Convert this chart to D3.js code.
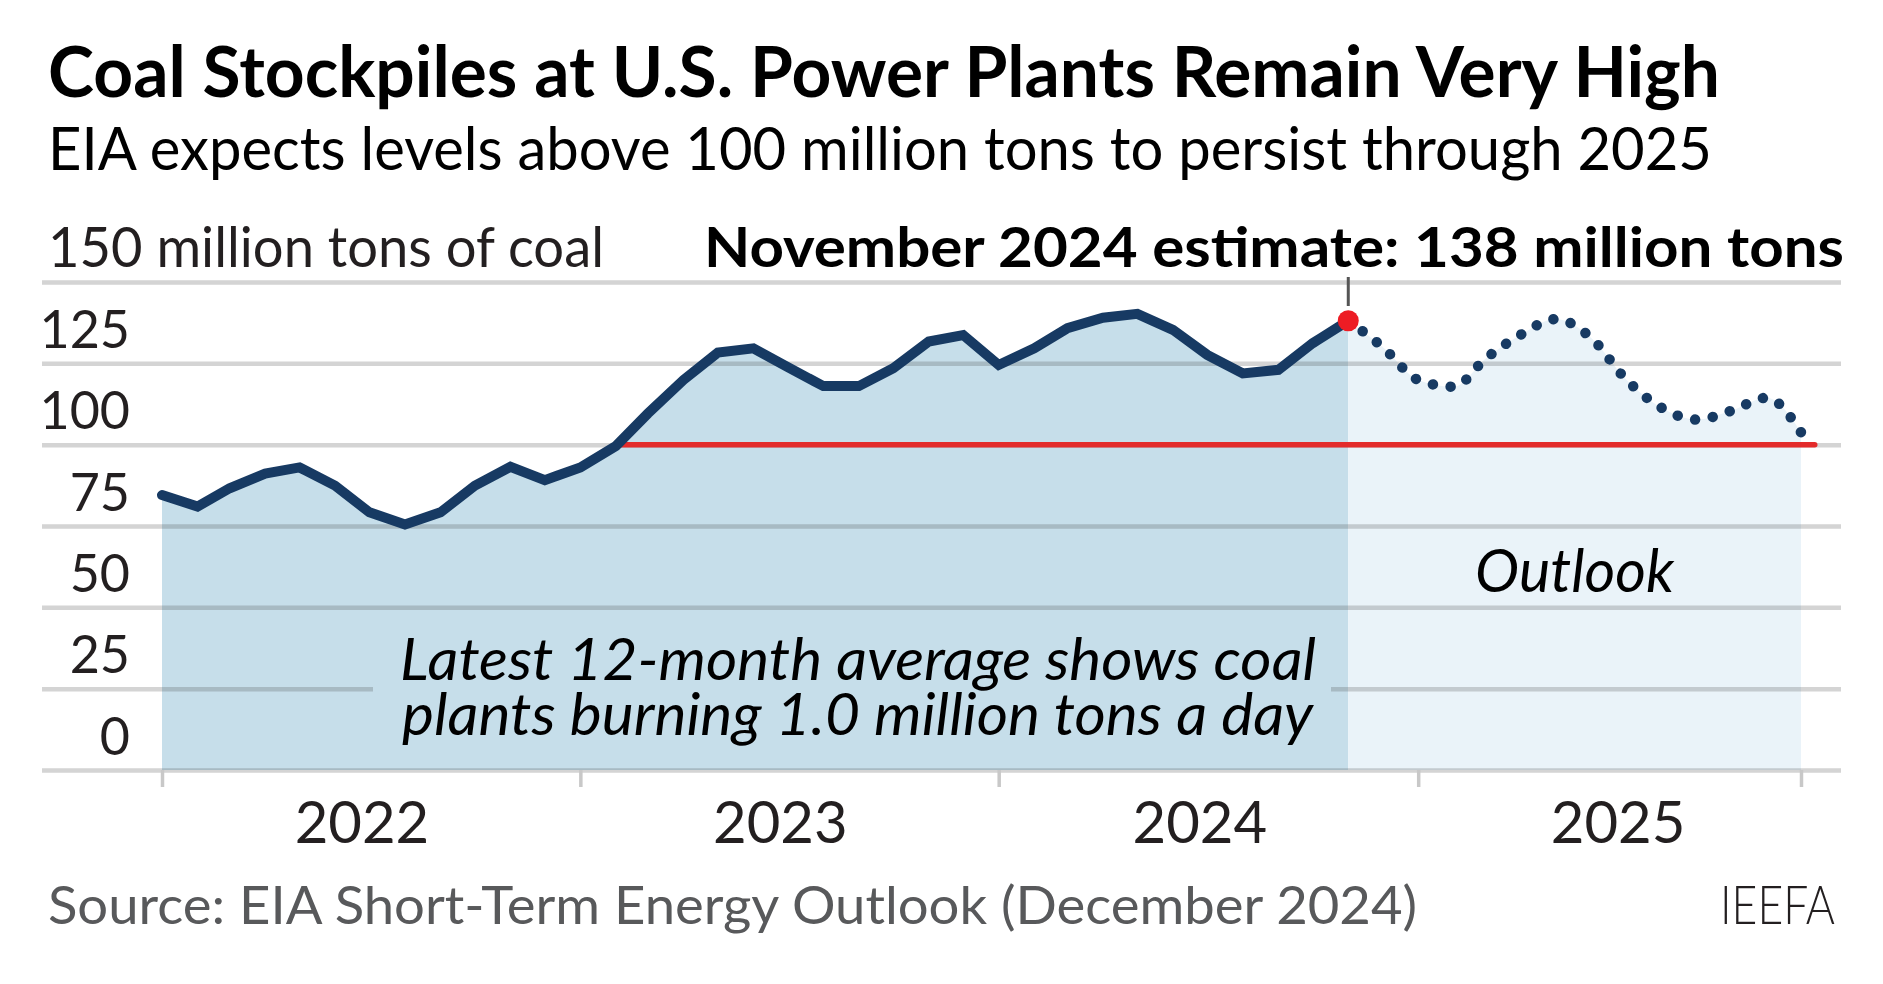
<!DOCTYPE html>
<html><head><meta charset="utf-8">
<script src="https://cdn.jsdelivr.net/npm/d3@7"></script>
<style>
html,body{margin:0;padding:0;background:#fff;}
svg{display:block;}
text{font-family:Lato,"Noto Sans",sans-serif;}
</style></head><body>
<svg id="chart" width="1883" height="984"></svg>
<script>
// ---------- data ----------
const histMonths = ["2022-01","2022-02","2022-03","2022-04","2022-05","2022-06","2022-07","2022-08","2022-09","2022-10","2022-11","2022-12",
  "2023-01","2023-02","2023-03","2023-04","2023-05","2023-06","2023-07","2023-08","2023-09","2023-10","2023-11","2023-12",
  "2024-01","2024-02","2024-03","2024-04","2024-05","2024-06","2024-07","2024-08","2024-09","2024-10","2024-11"];
const histValues = [84.5,81.0,86.6,91.1,93.0,87.4,79.2,75.5,79.2,87.4,93.2,89.1,
  93.0,99.6,109.6,119.9,128.3,129.6,123.8,118.0,118.0,123.5,131.7,133.7,
  124.5,129.6,135.8,139.0,140.2,135.3,127.6,121.9,123.0,131.2,138.1];
const fcstMonths = ["2024-11","2024-12","2025-01","2025-02","2025-03","2025-04","2025-05","2025-06","2025-07","2025-08","2025-09","2025-10","2025-11","2025-12"];
const fcstValues = [138.1,130.0,119.9,117.8,126.5,133.9,138.6,132.8,120.2,111.4,107.7,110.4,114.4,103.8];
const yTicks = [0,25,50,75,100,125,150];
const xTickDates = ["2022-01-01","2023-01-01","2024-01-01","2025-01-01","2025-12-01"];
const yearLabels = ["2022","2023","2024","2025"];
const yearLabelDates = ["2022-06-24","2023-06-24","2024-06-24","2025-06-24"];
const thresholdValue = 100;
const thresholdDates = ["2023-02-06","2025-12-13"];
const estimateMonth = "2024-11";

const titleText = "Coal Stockpiles at U.S. Power Plants Remain Very High";
const subtitleText = "EIA expects levels above 100 million tons to persist through 2025";
const unitText = "150 million tons of coal";
const estimateText = "November 2024 estimate: 138 million tons";
const noteLines = ["Latest 12-month average shows coal","plants burning 1.0 million tons a day"];
const outlookText = "Outlook";
const sourceText = "Source: EIA Short-Term Energy Outlook (December 2024)";
const brandText = "IEEFA";

// ---------- setup ----------
const pm = d3.timeParse("%Y-%m"), pd = d3.timeParse("%Y-%m-%d");
const hist = histMonths.map((m,i)=>({d:pm(m), v:histValues[i]}));
const fcst = fcstMonths.map((m,i)=>({d:pm(m), v:fcstValues[i]}));
const svg = d3.select("#chart");

const x = d3.scaleTime().domain([pm("2022-01"), pm("2025-12")]).range([162,1801]);
const y = d3.scaleLinear().domain([0,150]).range([770,282]);
const gridLeft = 42, gridRight = 1841;

const navy = "#173a63";

// areas
const areaLin = d3.area().x(d=>x(d.d)).y0(y(0)).y1(d=>y(d.v));
const areaSm = d3.area().curve(d3.curveMonotoneX).x(d=>x(d.d)).y0(y(0)).y1(d=>y(d.v));
svg.append("path").datum(hist).attr("d",areaLin).attr("fill","#c6deea");
svg.append("path").datum(fcst).attr("d",areaSm).attr("fill","#eaf3f9");

// gridlines (masked where the note sits)
const gridOuter = svg.append("g").attr("mask","url(#gridMask)");
const gGrid = gridOuter.append("g").attr("transform",`translate(${gridLeft},0)`)
  .call(d3.axisRight(y).tickValues(yTicks).tickSize(gridRight-gridLeft).tickFormat(""));
gGrid.select(".domain").remove();
gGrid.selectAll(".tick line").attr("stroke","rgb(59,59,59)").attr("stroke-opacity",0.22).attr("stroke-width",4.5);

// y labels
const gY = svg.append("g").attr("transform","translate(130,0)")
  .call(d3.axisLeft(y).tickValues(yTicks.filter(v=>v<150)).tickSize(0).tickPadding(0));
gY.select(".domain").remove();
gY.selectAll(".tick text").attr("dy",null).attr("y",-16).attr("font-size",52).attr("fill","#231f20")
  .attr("font-family","Lato, sans-serif");
svg.append("text").attr("x",48).attr("y",y(150)-15).attr("font-size",56).attr("fill","#231f20")
  .attr("textLength",556).attr("lengthAdjust","spacingAndGlyphs").text(unitText);

// x ticks
const gX = svg.append("g").attr("transform",`translate(0,${y(0)})`)
  .call(d3.axisBottom(x).tickValues(xTickDates.map(pd)).tickSize(17).tickFormat(""));
gX.select(".domain").remove();
gX.selectAll(".tick line").attr("stroke","#c8c8c8").attr("stroke-width",3.5);
const gXL = svg.append("g").attr("transform",`translate(0,${y(0)})`)
  .call(d3.axisBottom(x).tickValues(yearLabelDates.map(pd)).tickSize(0).tickFormat((d,i)=>yearLabels[i]));
gXL.select(".domain").remove();
gXL.selectAll(".tick text").attr("dy",null).attr("y",73).attr("font-size",58).attr("fill","#231f20")
  .attr("font-family","Lato, sans-serif");

// threshold line
const lineLin = d3.line().x(d=>x(d.d)).y(d=>y(d.v));
svg.append("path").datum(thresholdDates.map(s=>({d:pd(s), v:thresholdValue})))
  .attr("d",lineLin).attr("fill","none").attr("stroke","#e32b2b").attr("stroke-width",5.5).attr("stroke-linecap","round");

// history line
svg.append("path").datum(hist).attr("d",lineLin).attr("fill","none").attr("stroke",navy)
  .attr("stroke-width",10).attr("stroke-linecap","round");

// forecast dotted (spacing adjusted so a dot lands on the final point)
const lineSm = d3.line().curve(d3.curveMonotoneX).x(d=>x(d.d)).y(d=>y(d.v));
const fpath = svg.append("path").datum(fcst).attr("d",lineSm).attr("fill","none").attr("stroke",navy)
  .attr("stroke-width",10.5).attr("stroke-linecap","round");
const L = fpath.node().getTotalLength();
const gap = (L - 0.5) / Math.round(L/18);
fpath.attr("stroke-dasharray",`0.01 ${gap - 0.01}`);

// estimate marker
const est = hist.find(d=>+d.d===+pm(estimateMonth));
svg.append("line").attr("x1",x(est.d)).attr("x2",x(est.d)).attr("y1",y(150)-5).attr("y2",y(150)+24)
  .attr("stroke","#555").attr("stroke-width",3);
svg.append("circle").attr("cx",x(est.d)).attr("cy",y(est.v)).attr("r",10.5).attr("fill","#ed1c24");

// texts
svg.append("text").attr("x",48).attr("y",97).attr("font-size",70).attr("font-weight",700).attr("fill","#000")
  .attr("textLength",1672).attr("lengthAdjust","spacingAndGlyphs").text(titleText);
svg.append("text").attr("x",48).attr("y",170).attr("font-size",60).attr("fill","#000")
  .attr("textLength",1664).attr("lengthAdjust","spacingAndGlyphs").text(subtitleText);
svg.append("text").attr("x",1844).attr("y",y(150)-15).attr("text-anchor","end").attr("font-size",55)
  .attr("font-weight",700).attr("fill","#000")
  .attr("textLength",1140).attr("lengthAdjust","spacingAndGlyphs").text(estimateText);

const note = svg.append("g");
note.append("text").attr("x",400).attr("y",680).attr("font-size",58).attr("font-style","italic").attr("fill","#000")
  .attr("textLength",916).attr("lengthAdjust","spacingAndGlyphs").text(noteLines[0]);
note.append("text").attr("x",402).attr("y",735).attr("font-size",58).attr("font-style","italic").attr("fill","#000")
  .attr("textLength",911).attr("lengthAdjust","spacingAndGlyphs").text(noteLines[1]);

svg.append("text").attr("x",1475).attr("y",592).attr("font-size",61).attr("font-style","italic").attr("fill","#000")
  .attr("textLength",199).attr("lengthAdjust","spacingAndGlyphs").text(outlookText);

svg.append("text").attr("x",48).attr("y",924).attr("font-size",53).attr("fill","#58595b")
  .attr("textLength",1369).attr("lengthAdjust","spacingAndGlyphs").text(sourceText);
svg.append("text").attr("x",1835).attr("y",924).attr("text-anchor","end").attr("font-size",53)
  .attr("font-weight",300).attr("fill","#231f20")
  .attr("textLength",115).attr("lengthAdjust","spacingAndGlyphs").text(brandText);

// mask to break the gridline behind the note
const bb = note.node().getBBox();
const defs = svg.append("defs");
const mask = defs.append("mask").attr("id","gridMask").attr("maskUnits","userSpaceOnUse")
  .attr("x",0).attr("y",0).attr("width",1883).attr("height",984);
mask.append("rect").attr("x",0).attr("y",0).attr("width",1883).attr("height",984).attr("fill","#fff");
mask.append("rect").attr("x",bb.x-27).attr("y",bb.y).attr("width",bb.width+42).attr("height",bb.height).attr("fill","#000");
</script>
</body></html>
